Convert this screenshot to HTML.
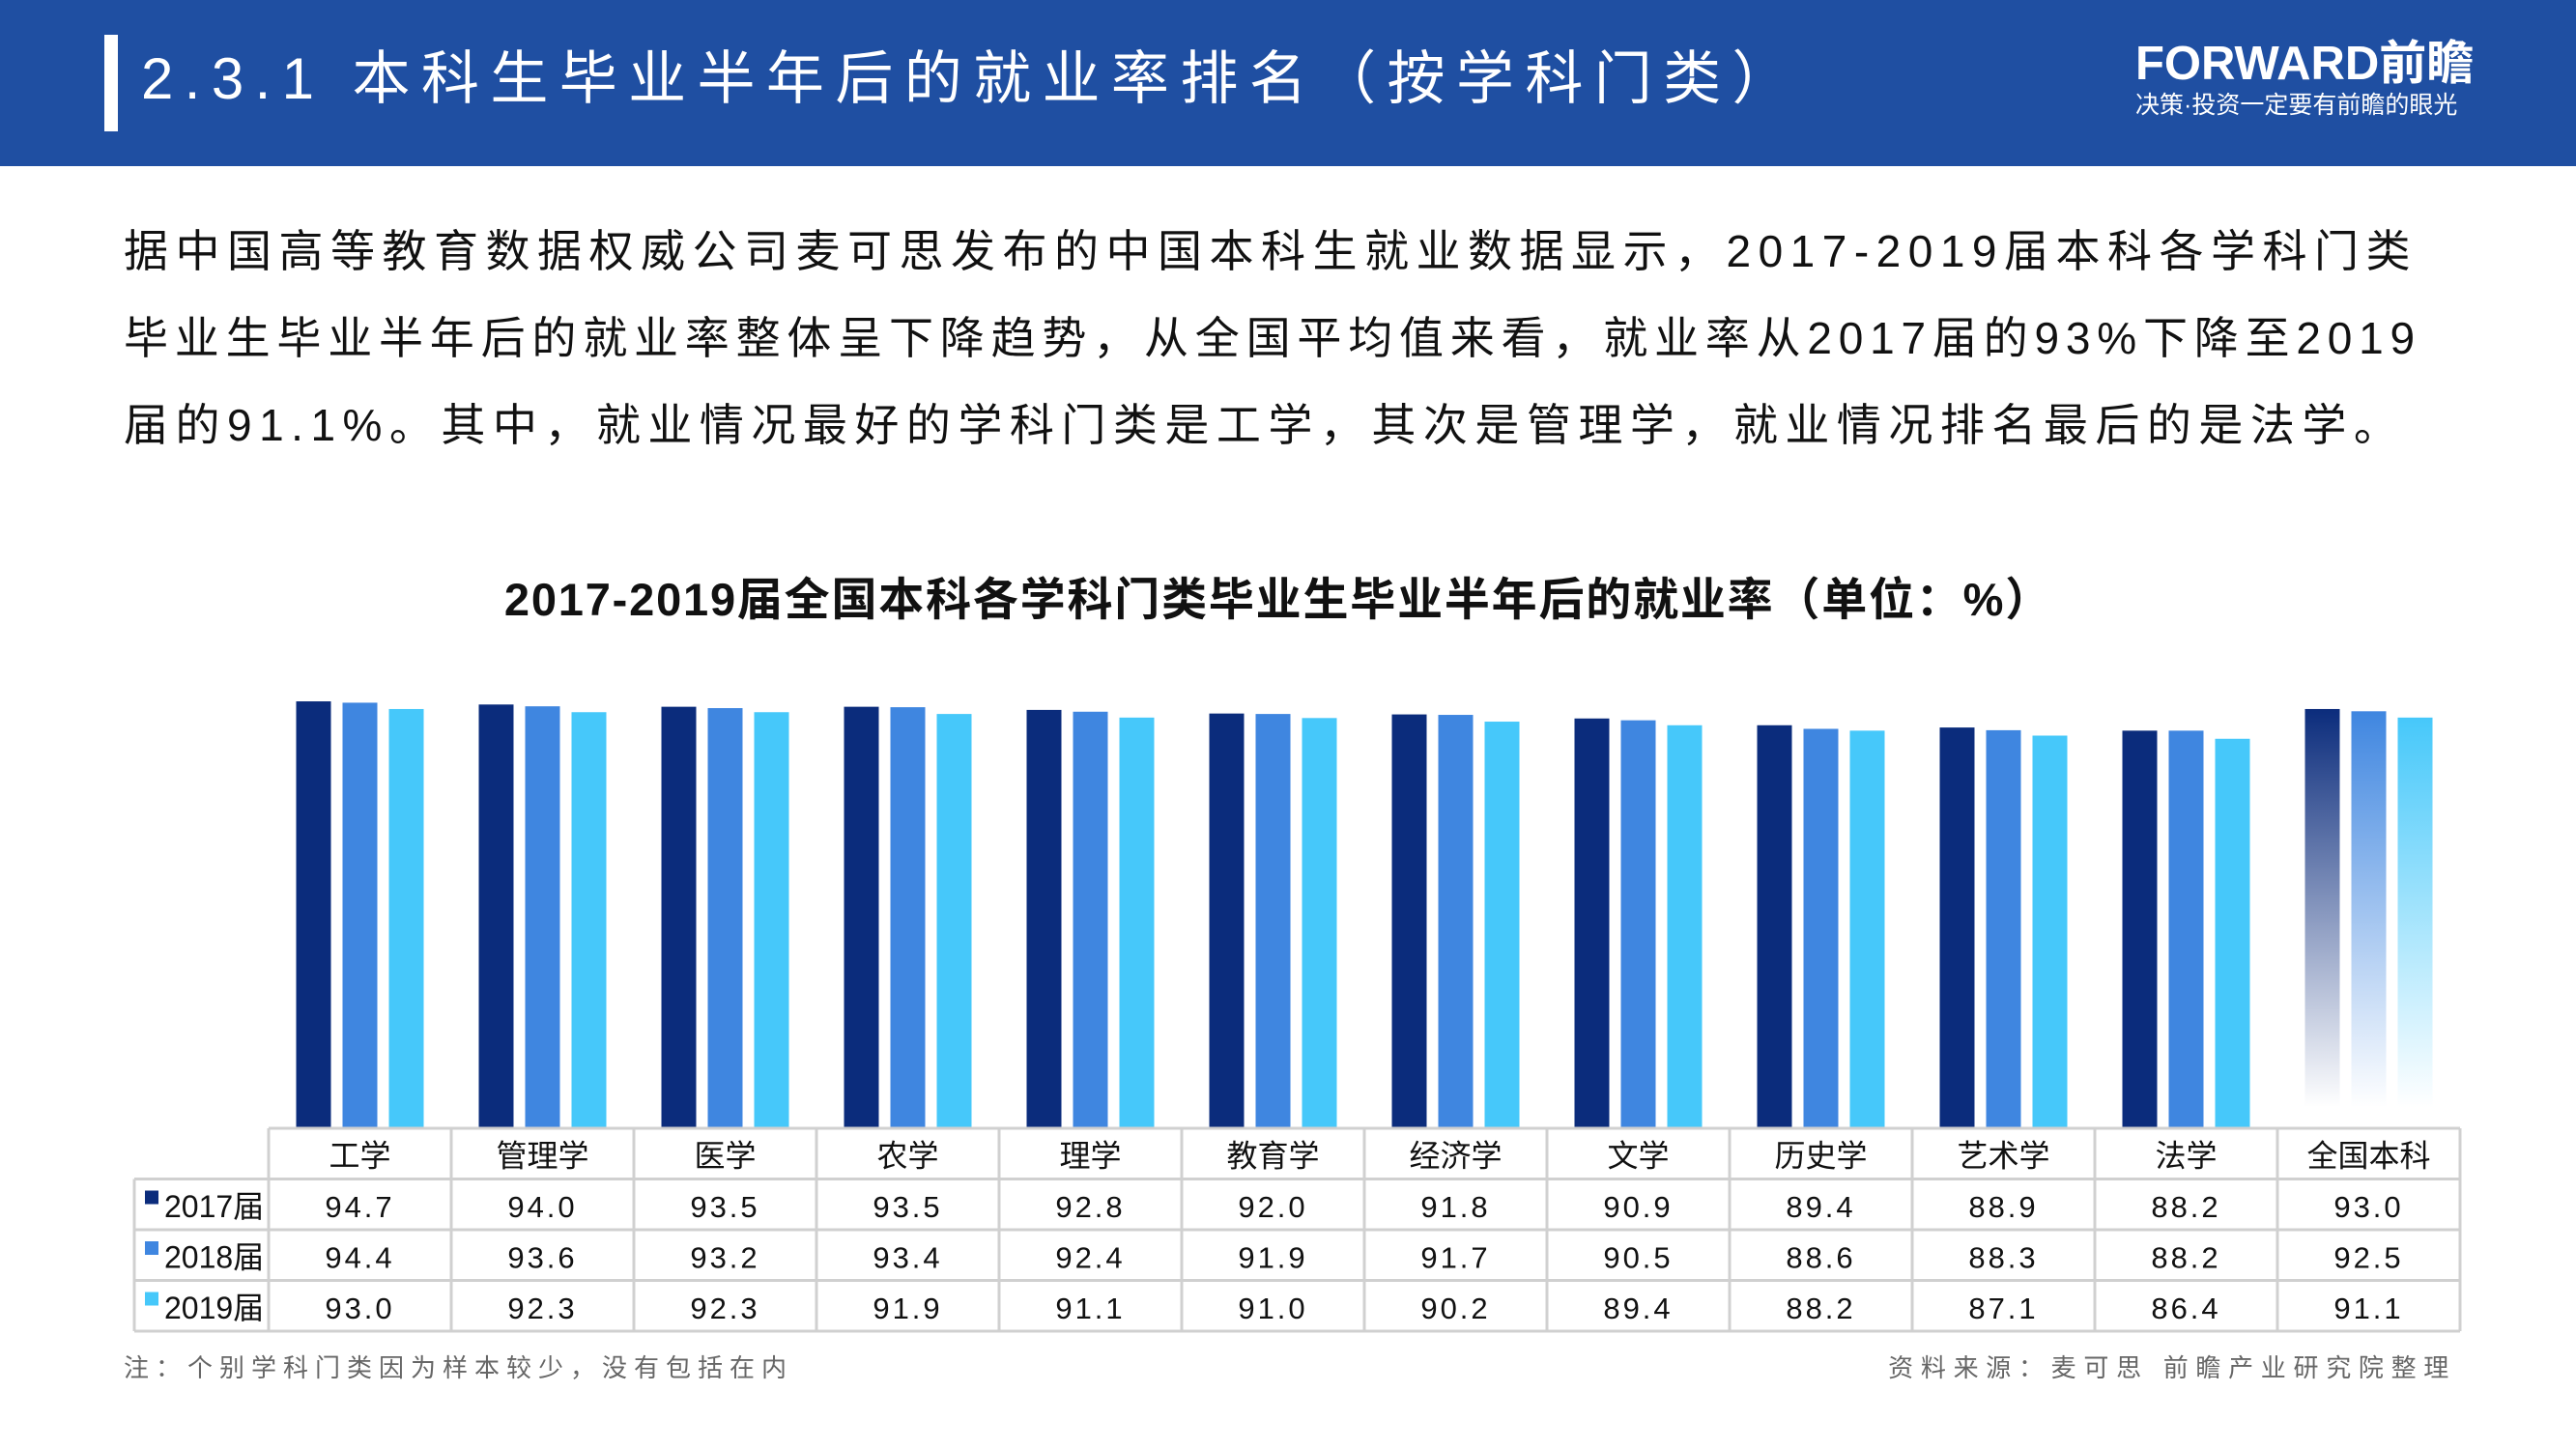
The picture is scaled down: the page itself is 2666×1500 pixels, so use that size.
<!DOCTYPE html>
<html><head><meta charset="utf-8">
<style>
body{margin:0;width:2666px;height:1500px;position:relative;background:#fff;overflow:hidden;font-family:"Liberation Sans","Noto Sans CJK SC",sans-serif;}
.abs{position:absolute;white-space:nowrap;}
#header{left:0;top:0;width:2666px;height:172px;background:#1f4fa2;}
#para div{position:absolute;left:128px;font-size:46px;letter-spacing:7.5px;color:#111;line-height:1;}
</style></head><body>
<div id="header" class="abs"></div>
<div class="abs" style="left:108px;top:36px;width:14px;height:100px;background:#fff"></div>
<div class="abs" style="left:146px;top:52px;font-size:60px;color:#fff;letter-spacing:11.4px;line-height:1">2.3.1 本科生毕业半年后的就业率排名（按学科门类）</div>
<div class="abs" style="left:2210px;top:42px;font-size:49px;font-weight:bold;color:#fff;line-height:1">FORWARD前瞻</div>
<div class="abs" style="left:2210px;top:97px;font-size:25px;color:#fff;line-height:1">决策·投资一定要有前瞻的眼光</div>
<div id="para">
<div style="top:237px">据中国高等教育数据权威公司麦可思发布的中国本科生就业数据显示，2017-2019届本科各学科门类</div>
<div style="top:327px;letter-spacing:6.8px">毕业生毕业半年后的就业率整体呈下降趋势，从全国平均值来看，就业率从2017届的93%下降至2019</div>
<div style="top:417px">届的91.1%。其中，就业情况最好的学科门类是工学，其次是管理学，就业情况排名最后的是法学。</div>
</div>
<div class="abs" style="left:0;width:2646px;text-align:center;top:597px;font-size:47px;letter-spacing:1.8px;font-weight:bold;color:#111;line-height:1">2017-2019届全国本科各学科门类毕业生毕业半年后的就业率（单位：%）</div>
<svg id="chart" class="abs" style="left:0;top:0" width="2666" height="1500">
<defs>
<linearGradient id="g0" x1="0" y1="0" x2="0" y2="1"><stop offset="0" stop-color="#0b2c7c"/><stop offset="0.95" stop-color="#0b2c7c" stop-opacity="0"/></linearGradient>
<linearGradient id="g1" x1="0" y1="0" x2="0" y2="1"><stop offset="0" stop-color="#3f86e0"/><stop offset="0.95" stop-color="#3f86e0" stop-opacity="0"/></linearGradient>
<linearGradient id="g2" x1="0" y1="0" x2="0" y2="1"><stop offset="0" stop-color="#46c8fa"/><stop offset="0.95" stop-color="#46c8fa" stop-opacity="0"/></linearGradient>
</defs>
</svg>
<div class="abs" style="left:128px;top:1403px;font-size:26px;color:#666;letter-spacing:7px;line-height:1">注：个别学科门类因为样本较少，没有包括在内</div>
<div class="abs" style="right:124px;top:1403px;font-size:26px;color:#666;letter-spacing:7.7px;line-height:1">资料来源：麦可思 前瞻产业研究院整理</div>
<script>
const categories=["工学","管理学","医学","农学","理学","教育学","经济学","文学","历史学","艺术学","法学","全国本科"];
const seriesNames=["2017届","2018届","2019届"];
const s2017=[94.7,94.0,93.5,93.5,92.8,92.0,91.8,90.9,89.4,88.9,88.2,93.0];
const s2018=[94.4,93.6,93.2,93.4,92.4,91.9,91.7,90.5,88.6,88.3,88.2,92.5];
const s2019=[93.0,92.3,92.3,91.9,91.1,91.0,90.2,89.4,88.2,87.1,86.4,91.1];
const series=[s2017,s2018,s2019];
const colors=["#0b2c7c","#3f86e0","#46c8fa"];
const NS="http://www.w3.org/2000/svg";
const svg=document.getElementById('chart');
const base=1168, pxPer=4.667, tableLeft=139, firstCol=278, colW=189, rowH=52.5;
function yScale(v){return base-v*pxPer;}
function xBand(i){return firstCol+i*colW;}
function mk(tag,attrs){const e=document.createElementNS(NS,tag);for(const k in attrs)e.setAttribute(k,attrs[k]);svg.appendChild(e);return e;}
categories.forEach((c,i)=>{
  series.forEach((s,j)=>{
    const x=xBand(i)+colW/2-18+(j-1)*48;
    const last=i===categories.length-1;
    const r=mk('rect',{x:x,y:yScale(s[i]),width:36,height:s[i]*pxPer,fill:last?`url(#g${j})`:colors[j]});
    
    
  });
});
const right=xBand(categories.length);
const gl='#d0d0d0';
mk('line',{x1:firstCol,y1:base,x2:right,y2:base,stroke:gl,'stroke-width':3});
for(let r=1;r<=4;r++){mk('line',{x1:tableLeft,y1:base+r*rowH,x2:right,y2:base+r*rowH,stroke:gl,'stroke-width':3});}
mk('line',{x1:tableLeft,y1:base+rowH,x2:tableLeft,y2:base+4*rowH,stroke:gl,'stroke-width':3});
for(let i=0;i<=categories.length;i++){mk('line',{x1:xBand(i),y1:base,x2:xBand(i),y2:base+4*rowH,stroke:gl,'stroke-width':3});}
categories.forEach((c,i)=>{
  const t=mk('text',{x:xBand(i)+colW/2,y:base+rowH/2+13,'text-anchor':'middle','font-size':32,fill:'#111'});
  t.textContent=c;
  
  
  series.forEach((s,j)=>{
    const v=mk('text',{x:xBand(i)+colW/2,y:base+(j+1)*rowH+rowH/2+13,'text-anchor':'middle','font-size':31,fill:'#111','letter-spacing':3});
    v.textContent=s[i].toFixed(1);
    
    
  });
});
seriesNames.forEach((n,j)=>{
  const y=base+(j+1)*rowH;
  const sq=mk('rect',{x:150,y:y+12,width:14,height:14,fill:colors[j]});
  
  
  const t=mk('text',{x:170,y:y+rowH/2+13,'font-size':32,fill:'#111'});
  t.textContent=n;
  
  
});
</script>
</body></html>
